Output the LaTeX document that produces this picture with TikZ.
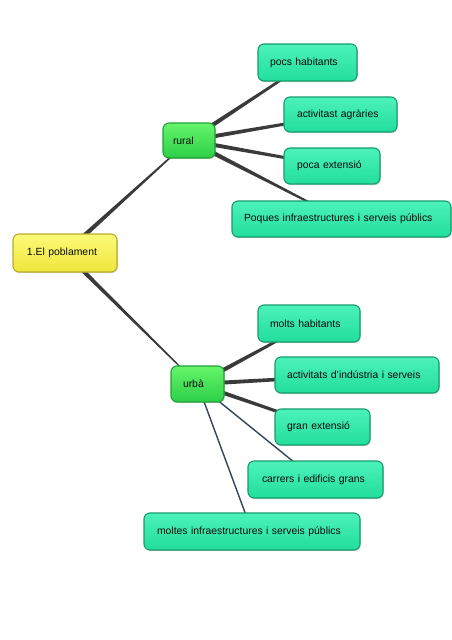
\documentclass[tikz,border=0pt]{standalone}
\usepackage{fontspec}
\setmainfont{Liberation Sans}
\usetikzlibrary{calc,shadows}
\pgfdeclarelayer{bg}
\pgfsetlayers{bg,main}
\definecolor{tealtop}{HTML}{4CF2BA}
\definecolor{tealbot}{HTML}{22DE9C}
\definecolor{tealedge}{HTML}{169C6A}
\definecolor{greentop}{HTML}{66F46A}
\definecolor{greenbot}{HTML}{2CD048}
\definecolor{greenedge}{HTML}{22A038}
\definecolor{yeltop}{HTML}{FCFA7A}
\definecolor{yelbot}{HTML}{EEE63A}
\definecolor{yeledge}{HTML}{B8AC28}
\definecolor{linegray}{HTML}{3A3A3A}
\definecolor{lineslate}{HTML}{34445A}
\definecolor{txt}{HTML}{0A0A0A}
\newcommand\tconn[5]{\fill[#5] ($(#1.center)!#3!90:(#2.center)$) -- ($(#2.center)!#4!-90:(#1.center)$) -- ($(#2.center)!#4!90:(#1.center)$) -- ($(#1.center)!#3!-90:(#2.center)$) -- cycle;}
\begin{document}
\begin{tikzpicture}[x=1pt,y=-1pt,
  basebox/.style={rounded corners=6pt, line width=1.1pt, inner xsep=12pt, inner ysep=0pt,
    align=left, text=txt, font=\fontsize{10.4}{12}\selectfont,
    drop shadow={opacity=0.3, shadow xshift=0.8pt, shadow yshift=-1.2pt}},
  tealbox/.style={basebox, draw=tealedge, top color=tealtop, bottom color=tealbot},
  greenbox/.style={basebox, draw=greenedge, top color=greentop, bottom color=greenbot},
  yelbox/.style={basebox, draw=yeledge, top color=yeltop, bottom color=yelbot}]
\useasboundingbox (0,0) rectangle (452,640);
% nodes
\node[yelbox, inner xsep=14pt, text width=76pt, minimum height=38pt] (root) at (65,253) {\mbox{1.El poblament}};
\node[greenbox, inner xsep=10pt, text width=32pt, minimum height=35pt] (rural) at (189,140.5) {\mbox{rural}};
\node[greenbox, inner xsep=12pt, text width=29pt, minimum height=36pt] (urba) at (197.5,384) {\mbox{urbà}};
\node[tealbox, text width=75pt, minimum height=37pt] (pocs) at (307.5,62.5) {\mbox{pocs habitants}};
\node[tealbox, inner xsep=13pt, text width=87pt, minimum height=35pt] (agr) at (340.5,114.5) {\mbox{activitast agràries}};
\node[tealbox, inner xsep=13pt, text width=70pt, minimum height=36pt] (poca) at (332,166) {\mbox{poca extensió}};
\node[tealbox, text width=195pt, minimum height=36pt] (poques) at (341.5,219) {\mbox{Poques infraestructures i serveis públics}};
\node[tealbox, text width=78pt, minimum height=37pt] (molts) at (309,323.5) {\mbox{molts habitants}};
\node[tealbox, inner xsep=12pt, text width=140pt, minimum height=36pt] (ind) at (357,375) {\mbox{activitats d'indústria i serveis}};
\node[tealbox, text width=71pt, minimum height=36pt] (gran) at (322.5,427) {\mbox{gran extensió}};
\node[tealbox, inner xsep=14pt, text width=107pt, minimum height=37pt] (carrers) at (315.5,479.5) {\mbox{carrers i edificis grans}};
\node[tealbox, inner xsep=13pt, text width=190pt, minimum height=37pt] (moltes) at (252,531.5) {\mbox{moltes infraestructures i serveis públics}};
% connectors
\begin{pgfonlayer}{bg}
\fill[white] (0,0) rectangle (452,640);
\tconn{root}{rural}{2.5pt}{0.5pt}{linegray}
\tconn{root}{urba}{2.3pt}{0.4pt}{linegray}
\tconn{rural}{pocs}{2.4pt}{0.9pt}{linegray}
\tconn{rural}{agr}{2.2pt}{1.1pt}{linegray}
\tconn{rural}{poca}{2.2pt}{1.1pt}{linegray}
\tconn{rural}{poques}{2.5pt}{0.6pt}{linegray}
\tconn{urba}{molts}{2.4pt}{0.9pt}{linegray}
\tconn{urba}{ind}{2.1pt}{1.4pt}{linegray}
\tconn{urba}{gran}{2.2pt}{1.1pt}{linegray}
\draw[lineslate, line width=1.4pt] (urba.center) -- (carrers.center);
\draw[lineslate, line width=1.4pt] (urba.center) -- (moltes.center);
\end{pgfonlayer}
\end{tikzpicture}
\end{document}
